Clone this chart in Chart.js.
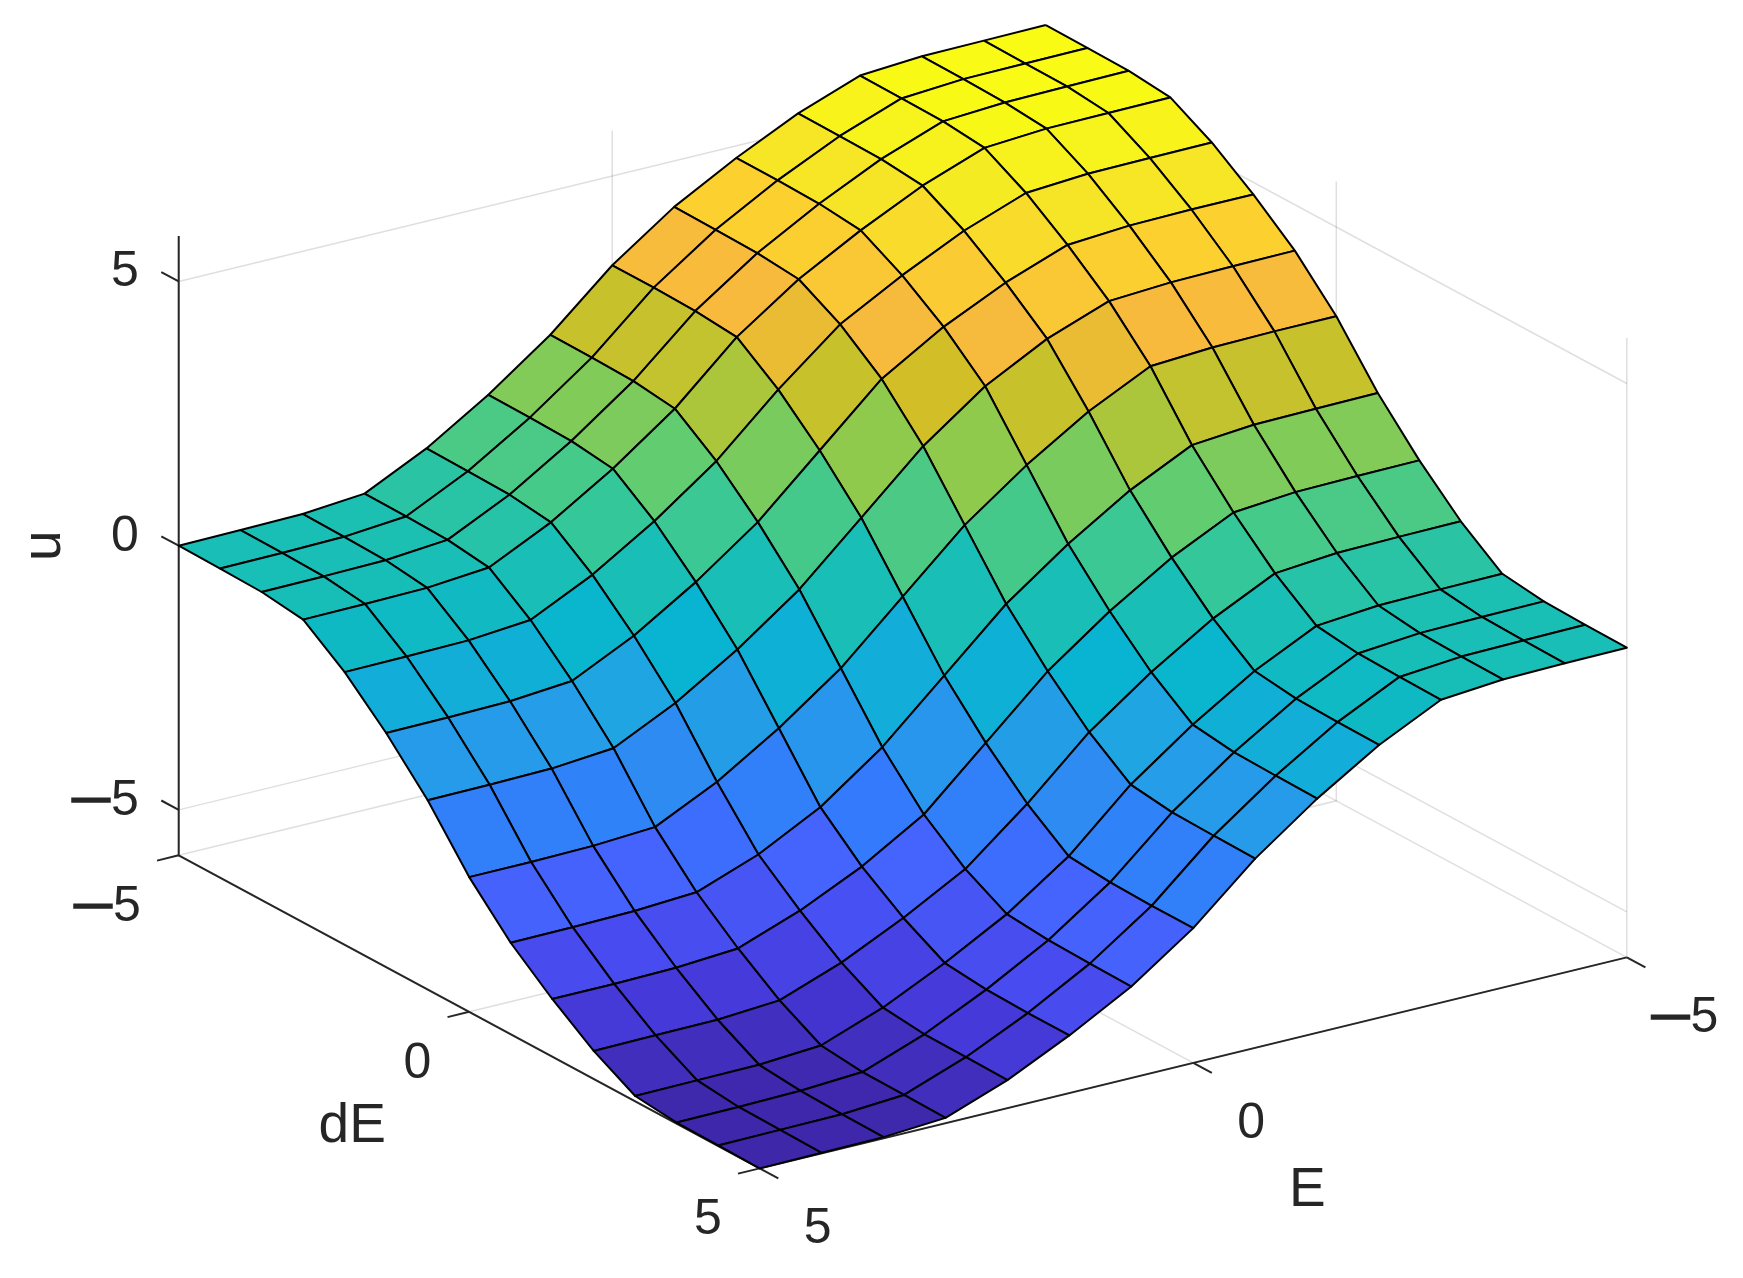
<!DOCTYPE html>
<html>
<head>
<meta charset="utf-8">
<script src="https://cdn.jsdelivr.net/npm/chart.js@4.4.1/dist/chart.umd.min.js"></script>
<style>
  html, body { margin: 0; padding: 0; background: #fff; }
  #wrap { width: 1743px; height: 1278px; position: relative; }
</style>
</head>
<body>
<div id="wrap"><canvas id="surf"></canvas></div>
<script>
// grid of the surface, E along columns and dE along rows
const E_VALUES = [-5, -4.286, -3.571, -2.857, -2.143, -1.429, -0.714, 0, 0.714, 1.429, 2.143, 2.857, 3.571, 4.286, 5];
const DE_VALUES = [-5, -4.286, -3.571, -2.857, -2.143, -1.429, -0.714, 0, 0.714, 1.429, 2.143, 2.857, 3.571, 4.286, 5];

// u, one row per dE value
const U_ROWS = [
  [5.86, 5.85, 5.84, 5.76, 5.33, 4.77, 4.13, 3.31, 2.28, 1.43, 0.70, 0.13, 0.03, 0.01, 0.00],
  [5.85, 5.84, 5.83, 5.75, 5.32, 4.77, 4.12, 3.31, 2.27, 1.42, 0.69, 0.12, 0.02, 0.00, -0.01],
  [5.84, 5.83, 5.81, 5.74, 5.31, 4.75, 4.10, 3.29, 2.25, 1.40, 0.67, 0.10, 0.00, -0.02, -0.03],
  [5.76, 5.75, 5.74, 5.66, 5.23, 4.67, 4.03, 3.22, 2.15, 1.30, 0.57, 0.00, -0.10, -0.12, -0.13],
  [5.33, 5.32, 5.31, 5.23, 4.80, 4.24, 3.60, 2.65, 1.58, 0.73, 0.00, -0.57, -0.67, -0.69, -0.70],
  [4.77, 4.77, 4.75, 4.67, 4.24, 3.69, 2.99, 1.92, 0.85, 0.00, -0.73, -1.30, -1.40, -1.42, -1.43],
  [4.13, 4.12, 4.10, 4.03, 3.60, 2.99, 2.14, 1.07, 0.00, -0.85, -1.58, -2.15, -2.25, -2.27, -2.28],
  [3.31, 3.31, 3.29, 3.22, 2.65, 1.92, 1.07, 0.00, -1.07, -1.92, -2.65, -3.22, -3.29, -3.31, -3.31],
  [2.28, 2.27, 2.25, 2.15, 1.58, 0.85, 0.00, -1.07, -2.14, -2.99, -3.60, -4.03, -4.10, -4.12, -4.13],
  [1.43, 1.42, 1.40, 1.30, 0.73, 0.00, -0.85, -1.92, -2.99, -3.69, -4.24, -4.67, -4.75, -4.77, -4.77],
  [0.70, 0.69, 0.67, 0.57, 0.00, -0.73, -1.58, -2.65, -3.60, -4.24, -4.80, -5.23, -5.31, -5.32, -5.33],
  [0.13, 0.12, 0.10, 0.00, -0.57, -1.30, -2.15, -3.22, -4.03, -4.67, -5.23, -5.66, -5.74, -5.75, -5.76],
  [0.03, 0.02, 0.00, -0.10, -0.67, -1.40, -2.25, -3.29, -4.10, -4.75, -5.31, -5.74, -5.81, -5.83, -5.84],
  [0.01, 0.00, -0.02, -0.12, -0.69, -1.42, -2.27, -3.31, -4.12, -4.77, -5.32, -5.75, -5.83, -5.84, -5.85],
  [0.00, -0.01, -0.03, -0.13, -0.70, -1.43, -2.28, -3.31, -4.13, -4.77, -5.33, -5.76, -5.84, -5.85, -5.86]
];

const Z_TICKS = [-5, 0, 5];
const E_TICKS = [-5, 0, 5];
const DE_TICKS = [-5, 0, 5];

const E_LO = E_VALUES[0], E_HI = E_VALUES[E_VALUES.length - 1];
const DE_LO = DE_VALUES[0], DE_HI = DE_VALUES[DE_VALUES.length - 1];
const ZMIN = Math.min(...U_ROWS.flat());
const ZMAX = Math.max(...U_ROWS.flat());

// orthographic view, screen units are u units
function project(e, de, u) {
  return {
    x: 1.641 * (E_HI - e) + 1.0995 * (de - DE_LO),
    y: u + 0.3993 * (E_HI - e) - 0.5924 * (de - DE_LO)
  };
}
// larger = nearer to the viewer
function nearness(e, de) {
  return 0.5924 * (de - DE_LO) - 0.3993 * (E_HI - e);
}

// parula
const PARULA = [
  [0.2422, 0.1504, 0.6603], [0.2706, 0.2147, 0.8364], [0.2813, 0.3006, 0.9414],
  [0.2699, 0.3892, 0.9906], [0.1963, 0.4847, 0.9892], [0.1687, 0.5703, 0.9359],
  [0.1248, 0.6459, 0.8883], [0.0297, 0.7082, 0.8163], [0.0964, 0.7500, 0.7120],
  [0.2161, 0.7843, 0.5923], [0.3909, 0.8029, 0.4354], [0.6174, 0.7876, 0.2612],
  [0.8203, 0.7498, 0.1535], [0.9728, 0.7298, 0.2394], [0.9892, 0.8136, 0.1885],
  [0.9597, 0.9135, 0.1423], [0.9769, 0.9839, 0.0805]
];
function parula(t) {
  t = Math.min(1, Math.max(0, t));
  const p = t * (PARULA.length - 1);
  const i = Math.min(Math.floor(p), PARULA.length - 2);
  const f = p - i;
  const c = PARULA[i].map((v, k) => Math.round(255 * (v + (PARULA[i + 1][k] - v) * f)));
  return `rgb(${c[0]},${c[1]},${c[2]})`;
}

const AXIS = 'rgb(38,38,38)';
const GRID = 'rgba(38,38,38,0.15)';
const FONT = '"Liberation Sans", Arial, sans-serif';
const datasets = [];

function polyline(points, color, width, order) {
  datasets.push({
    data: points.map(p => project(p[0], p[1], p[2])),
    showLine: true, borderColor: color, borderWidth: width,
    pointRadius: 0, fill: false, order: order
  });
}

// back walls and floor grid
Z_TICKS.forEach(t => polyline([[E_HI, DE_LO, t], [E_LO, DE_LO, t], [E_LO, DE_HI, t]], GRID, 1.5, 5000));
E_TICKS.forEach(t => polyline([[t, DE_LO, ZMAX], [t, DE_LO, ZMIN], [t, DE_HI, ZMIN]], GRID, 1.5, 5000));
DE_TICKS.forEach(t => polyline([[E_LO, t, ZMAX], [E_LO, t, ZMIN], [E_HI, t, ZMIN]], GRID, 1.5, 5000));

// axis lines and ticks
polyline([[E_HI, DE_LO, ZMAX], [E_HI, DE_LO, ZMIN], [E_HI, DE_HI, ZMIN], [E_LO, DE_HI, ZMIN]], AXIS, 2, 4000);
Z_TICKS.forEach(t => polyline([[E_HI, DE_LO, t], [E_HI, DE_LO - 0.3, t]], AXIS, 2, 4000));
DE_TICKS.forEach(t => polyline([[E_HI, t, ZMIN], [E_HI + 0.25, t, ZMIN]], AXIS, 2, 4000));
E_TICKS.forEach(t => polyline([[t, DE_HI, ZMIN], [t, DE_HI + 0.32, ZMIN]], AXIS, 2, 4000));

// surface faces
for (let r = 0; r < DE_VALUES.length - 1; r++) {
  for (let c = 0; c < E_VALUES.length - 1; c++) {
    const corners = [[r, c], [r, c + 1], [r + 1, c + 1], [r + 1, c]];
    const pts = corners.map(([a, b]) => project(E_VALUES[b], DE_VALUES[a], U_ROWS[a][b]));
    pts.push(pts[0]);
    const mean = corners.reduce((s, [a, b]) => s + U_ROWS[a][b], 0) / 4;
    const near = nearness((E_VALUES[c] + E_VALUES[c + 1]) / 2, (DE_VALUES[r] + DE_VALUES[r + 1]) / 2);
    datasets.push({
      data: pts, showLine: true, borderColor: '#000', borderWidth: 2,
      borderJoinStyle: 'round', pointRadius: 0, fill: false,
      faceColor: parula((mean - ZMIN) / (ZMAX - ZMIN)),
      order: 1000 - near * 100
    });
  }
}

const facePlugin = {
  id: 'faces',
  beforeDatasetDraw(chart, args) {
    const ds = chart.data.datasets[args.index];
    if (!ds.faceColor) return;
    const ctx = chart.ctx;
    ctx.save();
    ctx.beginPath();
    args.meta.data.forEach((p, k) => k ? ctx.lineTo(p.x, p.y) : ctx.moveTo(p.x, p.y));
    ctx.closePath();
    ctx.fillStyle = ds.faceColor;
    ctx.fill();
    ctx.restore();
  }
};

// tick label with the long heavy minus the original uses
function drawTick(ctx, t, x, cy, align) {
  const digits = String(Math.abs(t));
  const barW = 38, gap = 1;
  ctx.font = '50px ' + FONT;
  const dw = ctx.measureText(digits).width;
  const total = dw + (t < 0 ? barW + gap : 0);
  let left = align === 'right' ? x - total : align === 'center' ? x - total / 2 : x;
  const base = cy + 18;
  ctx.textAlign = 'left';
  ctx.textBaseline = 'alphabetic';
  if (t < 0) {
    ctx.font = 'bold 38px ' + FONT;
    ctx.lineWidth = 1.5;
    ctx.strokeStyle = AXIS;
    ctx.fillText('\u2014', left, base - 4);
    ctx.strokeText('\u2014', left, base - 4);
    left += barW + gap;
    ctx.font = '50px ' + FONT;
  }
  ctx.fillText(digits, left, base);
}

const labelPlugin = {
  id: 'labels3d',
  afterDraw(chart) {
    const ctx = chart.ctx;
    const xs = chart.scales.x, ys = chart.scales.y;
    const at = (e, de, u) => {
      const p = project(e, de, u);
      return { X: xs.getPixelForValue(p.x), Y: ys.getPixelForValue(p.y) };
    };
    ctx.save();
    ctx.fillStyle = AXIS;

    Z_TICKS.forEach(t => { const a = at(E_HI, DE_LO, t); drawTick(ctx, t, a.X - 40, a.Y - 13, 'right'); });
    DE_TICKS.forEach(t => { const a = at(E_HI, t, ZMIN); drawTick(ctx, t, a.X - 38, a.Y + 48, 'right'); });
    E_TICKS.forEach(t => { const a = at(t, DE_HI, ZMIN); drawTick(ctx, t, a.X + 58, a.Y + 57, 'center'); });

    ctx.font = '55px ' + FONT;
    ctx.textAlign = 'center';
    ctx.textBaseline = 'middle';
    const d = at(E_HI, 0, ZMIN);
    ctx.fillText('dE', d.X - 117, d.Y + 115);
    const e = at(0, DE_HI, ZMIN);
    ctx.fillText('E', e.X + 114, e.Y + 128);
    const u = at(E_HI, DE_LO, 0);
    ctx.translate(u.X - 134, u.Y);
    ctx.rotate(-Math.PI / 2);
    ctx.fillText('u', 0, 0);
    ctx.restore();
  }
};

new Chart(document.getElementById('surf'), {
  type: 'scatter',
  data: { datasets: datasets },
  options: {
    responsive: true,
    maintainAspectRatio: false,
    animation: false,
    events: [],
    layout: { padding: 0 },
    plugins: { legend: { display: false }, tooltip: { enabled: false } },
    scales: {
      x: { type: 'linear', display: false, min: -3.382, max: 29.604 },
      y: { type: 'linear', display: false, min: -13.859, max: 10.327 }
    }
  },
  plugins: [facePlugin, labelPlugin]
});
</script>
</body>
</html>
